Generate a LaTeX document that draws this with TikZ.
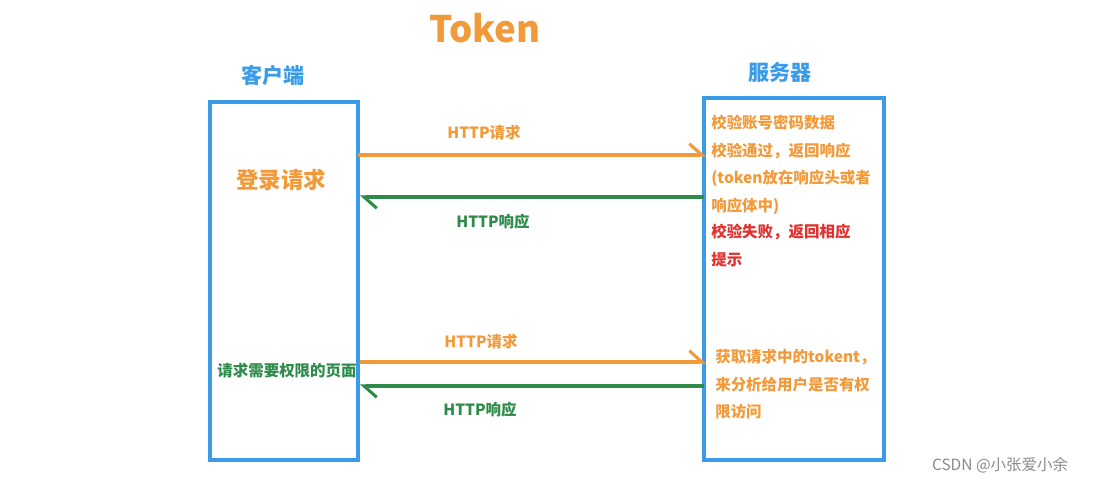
\documentclass[tikz,border=0pt]{standalone}
\usepackage{fontspec}
\setmainfont{Noto Sans CJK SC}
\usepackage{xcolor}
\definecolor{tokBlue}{HTML}{3A9BE8}
\definecolor{tokOrange}{HTML}{F29A3A}
\definecolor{tokGreen}{HTML}{2E8B4A}
\definecolor{tokRed}{HTML}{E0312E}
\definecolor{tokGray}{HTML}{8A8A8A}
\usetikzlibrary{arrows.meta,positioning}
\tikzset{
    side/.style={
        draw=tokBlue,
        line width=3pt,
        rectangle,
        inner sep=0pt
    },
    head/.style={
        font=\fontsize{15}{17}\selectfont\bfseries,
        text=tokBlue
    },
    request/.style={
        -{Straight Barb[left,length=9pt,width=16pt,line width=2.2pt]},
        line width=2.2pt,
        color=tokOrange
    },
    response/.style={
        -{Straight Barb[left,length=9pt,width=16pt,line width=2.2pt]},
        line width=2.2pt,
        color=tokGreen
    },
    label/.style={
        font=\fontsize{11}{13}\selectfont\bfseries,
        inner sep=1pt
    },
    note/.style={
        font=\fontsize{11}{19.5}\selectfont\bfseries,
        align=left,
        anchor=north west,
        inner sep=0pt
    }
}
\begin{document}
\begin{tikzpicture}[x=0.025cm,y=-0.025cm]
    \useasboundingbox (0,0) rectangle (1094,482);
    % Title
    \node[font=\fontsize{26}{30}\selectfont\bfseries, text=tokOrange] (title) at (485,28) {Token};

    % Client and server
    \node[side, minimum width=148*0.025cm, minimum height=358*0.025cm] (client) at (284,281) {};
    \node[side, minimum width=180*0.025cm, minimum height=362*0.025cm] (server) at (794,279) {};
    \node[head] (clientname) at (273,75) {客户端};
    \node[head] (servername) at (780,72) {服务器};

    % Client texts
    \node[font=\fontsize{16}{18}\selectfont\bfseries, text=tokOrange] (login) at (281,180) {登录请求};
    \node[label, text=tokGreen] (page) at (287,371) {请求需要权限的页面};

    % Server texts
    \node[note, text=tokOrange] (check) at (711,115) {校验账号密码数据\\校验通过，返回响应\\(token放在响应头或者\\响应体中)};
    \node[note, text=tokRed] (fail) at (711,224) {校验失败，返回相应\\提示};
    \node[note, text=tokOrange] (parse) at (715,349) {获取请求中的tokent，\\来分析给用户是否有权\\限访问};

    % Connectors
    \coordinate (req1a) at (358,155);   \coordinate (req1b) at (706,155);
    \coordinate (res1a) at (704,197);   \coordinate (res1b) at (360,197);
    \coordinate (req2a) at (360,362);   \coordinate (req2b) at (706,362);
    \coordinate (res2a) at (704,386);   \coordinate (res2b) at (360,386);
    \draw[request] (req1a) -- (req1b);
    \draw[response] (res1a) -- (res1b);
    \draw[request] (req2a) -- (req2b);
    \draw[response] (res2a) -- (res2b);
    \node[label, text=tokOrange] (req1) at (484,133) {HTTP请求};
    \node[label, text=tokGreen] (res1) at (493,222) {HTTP响应};
    \node[label, text=tokOrange] (req2) at (481,342) {HTTP请求};
    \node[label, text=tokGreen] (res2) at (480,410) {HTTP响应};

    \node[font=\fontsize{11}{13}\selectfont, text=tokGray] (mark) at (1000,465) {CSDN @小张爱小余};
\end{tikzpicture}
\end{document}
